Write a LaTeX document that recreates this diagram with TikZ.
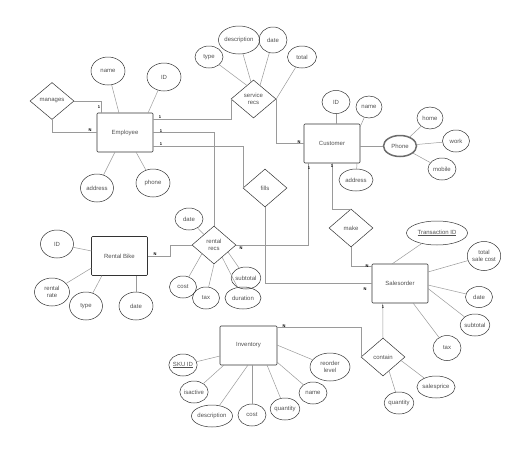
\documentclass[tikz,border=0pt]{standalone}
\usepackage{fontspec}
\setmainfont{Liberation Sans}
\usetikzlibrary{shapes.geometric}
\definecolor{txt}{HTML}{505050}
\definecolor{edge}{HTML}{9A9A9A}
\definecolor{shp}{HTML}{333333}
\begin{document}
\begin{tikzpicture}[x=1pt,y=-1pt,
  every node/.style={font=\fontsize{6}{6.6}\selectfont, text=txt},
  entity/.style={rectangle, draw=shp, line width=0.6pt, rounded corners=1pt, minimum width=56pt, minimum height=39pt, inner sep=0pt},
  attr/.style={ellipse, draw=shp, line width=0.5pt, minimum width=28pt, minimum height=22pt, inner sep=0pt, align=center},
  bigattr/.style={attr, minimum width=34pt, minimum height=28pt},
  rel/.style={diamond, draw=shp, line width=0.5pt, minimum width=44pt, minimum height=38pt, inner sep=0pt, align=center},
  conn/.style={draw=edge, line width=0.5pt},
  card/.style={font=\fontsize{4}{4}\selectfont\bfseries, text=black, inner sep=0pt}
]
\useasboundingbox (0,0) rectangle (512,453);

% ---------- Employee ----------
\node[entity] (emp) at (125,132.5) {Employee};
\node[rel, minimum height=37pt] (manages) at (52,101) {manages};
\node[bigattr] (eName) at (108,71) {name};
\node[bigattr] (eID) at (164,77) {ID};
\node[bigattr, minimum width=33pt] (eAddr) at (97,188) {address};
\node[bigattr] (ePhone) at (153,183) {phone};

\draw[conn] (eName) -- ([shift={(-6,-19.5)}]emp.center);
\draw[conn] (eID) -- ([shift={(23,-19.5)}]emp.center);
\draw[conn] (eAddr) -- ([shift={(-10,19.5)}]emp.center);
\draw[conn] (ePhone) -- ([shift={(11,19.5)}]emp.center);
\draw[conn] (manages.east) -| ([shift={(5,0)}]emp.north west);
\draw[conn] (manages.south) |- (emp.west);
\node[card] (c1) at (99,107) {1};
\node[card] (c2) at (90,130.5) {N};

% ---------- service recs ----------
\node[rel, minimum width=45pt] (srv) at (253.5,99) {service\\recs};
\node[attr] (sType) at (209,57) {type};
\node[attr, minimum width=38pt, minimum height=28pt] (sDesc) at (239,40) {description};
\node[attr, minimum height=26pt] (sDate) at (273,40) {date};
\node[attr, minimum width=29pt] (sTotal) at (302,57) {total};
\draw[conn] (sType) -- ([shift={(-6.5,-13.5)}]srv.center);
\draw[conn] (sDesc) -- ([shift={(-2.5,-17)}]srv.center);
\draw[conn] (sDate) -- ([shift={(6.5,-13.5)}]srv.center);
\draw[conn] (sTotal) -- (srv.east);

% ---------- Customer ----------
\node[entity] (cust) at (332,143.5) {Customer};
\node[attr, minimum height=23pt] (cID) at (336,102) {ID};
\node[attr, minimum width=26pt] (cName) at (369,107) {name};
\node[attr, minimum width=34pt] (cAddr) at (356,180) {address};
\node[attr, minimum width=33pt, minimum height=21pt, line width=1.5pt, draw=gray!85!black] (phone) at (400,146) {Phone};
\node[attr, minimum width=26pt] (pHome) at (430,118) {home};
\node[attr, minimum width=27pt] (pWork) at (456,141) {work};
\node[attr] (pMobile) at (442,169) {mobile};
\draw[conn] (cID) -- ([shift={(4,-19.5)}]cust.center);
\draw[conn] (cName) -- ([shift={(28,-16.5)}]cust.center);
\draw[conn] (cAddr) -- ([shift={(25,19.5)}]cust.center);
\draw[conn] ([shift={(28,2.5)}]cust.center) -- (phone);
\draw[conn] (phone) -- (pHome);
\draw[conn] (phone) -- (pWork);
\draw[conn] (phone) -- (pMobile);

% ---------- relationships ----------
\node[rel] (fills) at (265,188) {fills};
\node[rel] (make) at (351,228) {make};
\node[rel] (rr) at (214,245) {rental\\recs};
\node[rel] (contain) at (383,357) {contain};

% ---------- Salesorder ----------
\node[entity] (so) at (400,283.5) {Salesorder};
\node[attr, minimum width=61pt, minimum height=24pt] (tID) at (437,233) {\underline{Transaction ID}};
\node[attr, minimum width=33pt, minimum height=29pt, font=\fontsize{6}{6.4}\selectfont] (tCost) at (484,256) {total\\sale cost};
\node[attr, minimum width=27pt, minimum height=21pt] (soDate) at (479,297) {date};
\node[attr, minimum width=29pt] (soSub) at (475,325) {subtotal};
\node[attr, minimum height=25pt] (soTax) at (447,348) {tax};
\draw[conn] (tID) -- ([shift={(-8,-19.5)}]so.center);
\draw[conn] (tCost) -- ([shift={(28,-11.5)}]so.center);
\draw[conn] (soDate) -- ([shift={(28,1.5)}]so.center);
\draw[conn] (soSub) -- ([shift={(28,5)}]so.center);
\draw[conn] (soTax) -- ([shift={(13,19.5)}]so.center);

% ---------- Rental Bike ----------
\node[entity] (rb) at (119.5,256) {Rental Bike};
\node[bigattr, minimum width=33pt] (rbID) at (57,244) {ID};
\node[bigattr, minimum width=35pt] (rbRate) at (52,292) {rental\\rate};
\node[bigattr, minimum width=33pt] (rbType) at (86,306) {type};
\node[bigattr] (rbDate) at (136,306) {date};
\draw[conn] (rbID) -- ([shift={(-28,-5)}]rb.center);
\draw[conn] (rbRate) -- ([shift={(-28,12)}]rb.center);
\draw[conn] (rbType) -- ([shift={(-17.5,19.5)}]rb.center);
\draw[conn] (rbDate) -- ([shift={(16.5,19.5)}]rb.center);

% ---------- rental recs attributes ----------
\node[attr] (rrDate) at (189,219) {date};
\node[attr, minimum width=27pt] (rrCost) at (183,287) {cost};
\node[attr, minimum width=27pt] (rrTax) at (206,298) {tax};
\node[attr, minimum width=36pt] (rrDur) at (243,298) {duration};
\node[attr, minimum width=27pt] (rrSub) at (246,278) {subtotal};
\draw[conn] (rrDate) -- ([shift={(-10,-10.4)}]rr.center);
\draw[conn] (rrCost) -- ([shift={(-12,8.6)}]rr.center);
\draw[conn] (rrTax) -- (rr.south);
\draw[conn] (rrDur) -- ([shift={(8,12)}]rr.center);
\draw[conn] (rrSub) -- ([shift={(14,7)}]rr.center);

% ---------- Inventory ----------
\node[entity, minimum width=57pt] (inv) at (248.5,345.5) {Inventory};
\node[attr, minimum width=27pt] (iSKU) at (183,365) {\underline{SKU ID}};
\node[attr, minimum width=24pt] (iAct) at (194,392) {isactive};
\node[attr, minimum width=39pt] (iDesc) at (212,416) {description};
\node[attr] (iCost) at (252,415) {cost};
\node[attr] (iQty) at (285,409) {quantity};
\node[attr] (iName) at (313,393) {name};
\node[attr, minimum width=40pt, minimum height=28pt] (iReorder) at (330,367) {reorder\\level};
\draw[conn] (iSKU) -- ([shift={(-28.5,10.5)}]inv.center);
\draw[conn] (iAct) -- ([shift={(-24.5,19.5)}]inv.center);
\draw[conn] (iDesc) -- ([shift={(-0.5,19.5)}]inv.center);
\draw[conn] (iCost) -- ([shift={(3.5,19.5)}]inv.center);
\draw[conn] (iQty) -- ([shift={(18.5,19.5)}]inv.center);
\draw[conn] (iName) -- ([shift={(28.5,16.5)}]inv.center);
\draw[conn] (iReorder) -- ([shift={(28.5,-0.5)}]inv.center);

% ---------- contain attributes ----------
\node[attr, minimum width=27pt] (cQty) at (399,403) {quantity};
\node[attr, minimum width=38pt] (cPrice) at (436,387) {salesprice};
\draw[conn] (cQty) -- ([shift={(6,13.8)}]contain.center);
\draw[conn] (cPrice) -- ([shift={(18,3.5)}]contain.center);

% ---------- relationship connectors ----------
\draw[conn] ([shift={(0,-13.5)}]emp.east) -| (srv.west);
\draw[conn] (emp.east) -| (rr.north);
\draw[conn] ([shift={(0,13.5)}]emp.east) -| (fills.west);
\node[card] (c3) at (160,117.5) {1};
\node[card] (c4) at (161,131) {1};
\node[card] (c5) at (161,144.5) {1};

\draw[conn] (srv.east) |- (cust.west);
\node[card] (c6) at (299,142.5) {N};

\draw[conn] ([shift={(5,0)}]cust.south west) |- (rr.east);
\node[card] (c7) at (309,168) {1};
\node[card] (c8) at (241,248) {N};

\draw[conn] (cust.south) |- (make.north);
\node[card] (c9) at (332,166) {1};
\draw[conn] (make.south) |- ([shift={(0,-17)}]so.west);
\node[card] (c10) at (367,266) {N};

\draw[conn] (fills.south) |- (so.west);
\node[card] (c11) at (365,289) {N};

\draw[conn] (rb.east) -- ++(22,0) |- (rr.west);
\node[card] (c12) at (155,254.5) {N};

\draw[conn] ([shift={(11,0)}]so.south west) -- (contain.north);
\node[card] (c13) at (383,307.5) {1};

\draw[conn] (contain.west) |- ([shift={(0,2)}]inv.north east);
\node[card] (c14) at (284,326) {N};
\end{tikzpicture}
\end{document}
